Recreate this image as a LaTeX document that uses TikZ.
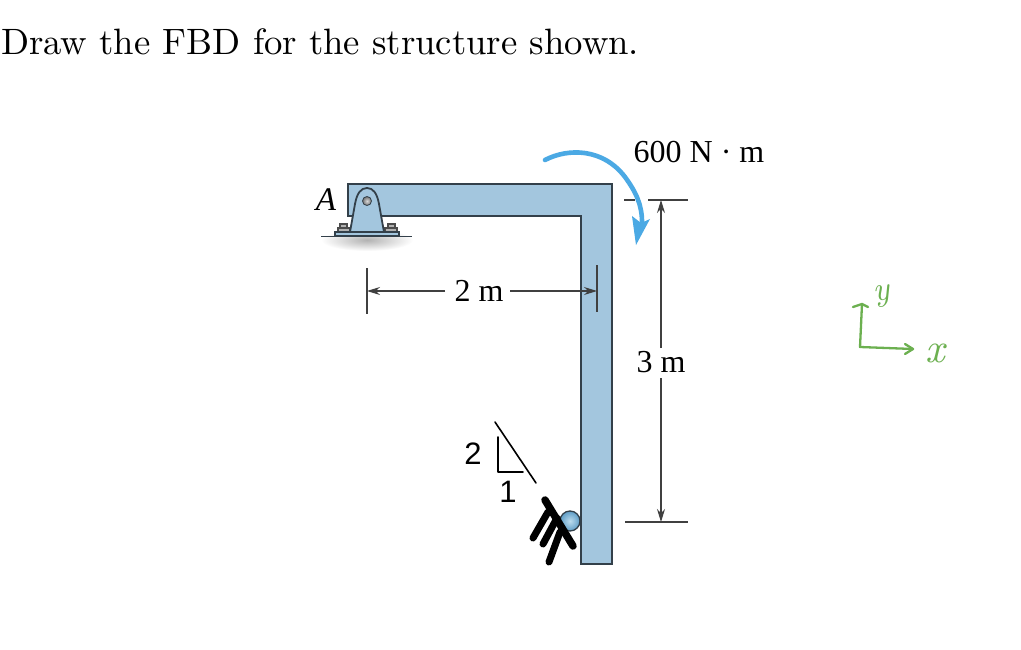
\documentclass[tikz,border=0pt]{standalone}
\usepackage{fontspec}
\setmainfont{lmroman10-regular.otf}
\newfontfamily\itfont{lmroman10-italic.otf}
\newfontfamily\figfont{Liberation Serif}
\newfontfamily\handfont{Liberation Sans}
\usetikzlibrary{arrows.meta}
\definecolor{beamblue}{HTML}{A3C6DE}
\definecolor{edgegray}{HTML}{33404A}
\definecolor{momentblue}{HTML}{4BA9E4}
\definecolor{handgreen}{HTML}{6CB050}
\definecolor{ballcore}{HTML}{BCDCEE}
\definecolor{ballrim}{HTML}{5F9DC6}
\tikzset{
  heading/.style={inner sep=0pt,anchor=west,font=\fontsize{36.7}{42}\selectfont},
  figlabel/.style={inner sep=0pt,font=\figfont\fontsize{32}{36}\selectfont},
  dimline/.style={draw=black!75,line width=1.2pt},
  dimarrow/.style={dimline,-{Stealth[length=13pt,width=8pt]}},
  beamline/.style={draw=edgegray,fill=beamblue,line width=1.5pt,line join=miter},
  inkline/.style={draw=black,line width=1.6pt,line cap=round,line join=round},
  marker/.style={draw=black,line width=7.5pt,line cap=round},
  boltpart/.style={draw=black!70,line width=1.2pt,fill=black!30},
  greenline/.style={draw=handgreen,line width=2.3pt,line cap=round,line join=round},
  handtext/.style={inner sep=0pt,font=\handfont\fontsize{31}{34}\selectfont},
  greentext/.style={inner sep=0pt,text=handgreen,font=\itfont\fontsize{42}{44}\selectfont}
}
\begin{document}
\begin{tikzpicture}[x=1pt,y=-1pt]
\useasboundingbox (0,0) rectangle (1021,650);
\fill[white] (0,0) rectangle (1021,650);

\node[heading] (title) at (1,42) {Draw the FBD for the structure shown.};

% shadow under the support
\shade[inner color=black!30,outer color=white] (367,240) ellipse [x radius=46,y radius=11];

% beam
\path[beamline] (348,184) -- (612,184) -- (612,564) -- (581,564) -- (581,216) -- (348,216) -- cycle;

% support
\node[figlabel,font=\figfont\itshape\fontsize{33}{36}\selectfont] (A) at (326,200) {A};
\path[boltpart] (340,224) rectangle (347,232);
\path[boltpart] (388,224) rectangle (395,232);
\path[boltpart] (338,228) rectangle (350,232);
\path[boltpart] (385,228) rectangle (397,232);
\path[draw=edgegray,fill=beamblue,line width=1.8pt] (350,232) -- (355,204)
  .. controls (357,193) and (361,188) .. (367,188)
  .. controls (373,188) and (377,193) .. (379,204) -- (384,232) -- cycle;
\path[draw=edgegray,fill=beamblue,line width=1.2pt] (335,232) rectangle (399,236);
\draw[edgegray,line width=1.2pt] (321,236.5) -- (412,236.5);
\shade[inner color=black!15,outer color=black!55,draw=edgegray,line width=0.8pt] (367,201) circle (4.5);

% moment
\draw[momentblue,line width=4.6pt,line cap=round] (545,160)
  .. controls (568,148) and (603,148) .. (625,177)
  .. controls (636,192) and (642,205) .. (642,222);
\fill[momentblue] (636,245) -- (632,216) -- (641,223) -- (650,219) -- cycle;

% moment label
\node[figlabel] (moment) at (699,152) {600 N · m};

% dimension 2 m
\coordinate (dimAtop) at (367,268);
\coordinate (dimAbot) at (367,314);
\coordinate (dimBtop) at (597,265);
\coordinate (dimBbot) at (597,312);
\coordinate (dimAend) at (367,291);
\coordinate (dimBend) at (597,291);
\draw[dimline] (dimAtop) -- (dimAbot);
\draw[dimline] (dimBtop) -- (dimBbot);
\node[figlabel,fill=white,inner xsep=0pt] (twom) at (479,291) {2 m};
\coordinate (twoL) at (445,291);
\coordinate (twoR) at (510,291);
\draw[dimarrow] (twoL) -- (dimAend);
\draw[dimarrow] (twoR) -- (dimBend);

% dimension 3 m
\coordinate (topL) at (624,200);
\coordinate (topM) at (635,200);
\coordinate (topN) at (648,200);
\coordinate (topR) at (688,200);
\coordinate (botL) at (625,522);
\coordinate (botR) at (688,522);
\coordinate (dimTop) at (661,200);
\coordinate (dimBot) at (661,522);
\coordinate (threeU) at (661,348);
\coordinate (threeD) at (661,378);
\draw[dimline] (topL) -- (topM);
\draw[dimline] (topN) -- (topR);
\draw[dimline] (botL) -- (botR);
\node[figlabel] (threem) at (661,362) {3 m};
\draw[dimarrow] (threeU) -- (dimTop);
\draw[dimarrow] (threeD) -- (dimBot);

% handwritten slope triangle
\draw[inkline] (495,422) -- (536,483);
\draw[inkline] (498,437) -- (498,472) -- (523,472);
\node[handtext] (slopetwo) at (473,454) {2};
\node[handtext] (slopeone) at (508,492) {1};

% roller
\shade[inner color=ballcore,outer color=ballrim,draw=edgegray,line width=1.3pt] (570,521) circle (10);
\draw[marker] (545,500) -- (573,546);
\draw[marker,line width=7pt] (548,512) -- (533,538);
\draw[marker,line width=7pt] (557,518) -- (543,544);
\draw[marker,line width=7pt] (560,532) -- (549,562);

% handwritten axes
\coordinate (origin) at (860,347);
\coordinate (yTip) at (862,304);
\coordinate (xTip) at (913,349);
\draw[greenline] (yTip) -- (origin) -- (xTip);
\draw[greenline] (853,307) -- (yTip) -- (868,307);
\draw[greenline] (905,344) -- (xTip) -- (905,354);
\node[greentext,font=\itfont\fontsize{34}{36}\selectfont,rotate=8] (yLabel) at (882,296) {y};
\node[greentext] (xLabel) at (935,353) {x};
\end{tikzpicture}
\end{document}
